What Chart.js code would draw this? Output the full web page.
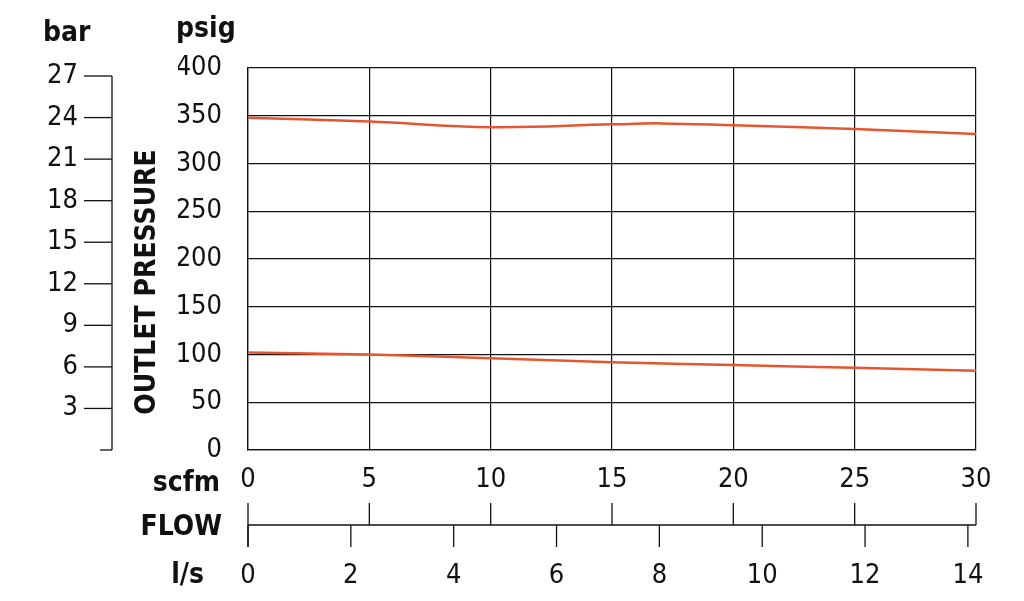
<!DOCTYPE html>
<html>
<head>
<meta charset="utf-8">
<script src="https://cdn.jsdelivr.net/npm/chart.js@4"></script>
<style>
  html, body { margin: 0; padding: 0; background: #fff; }
  #wrap { width: 1024px; height: 601px; }
</style>
</head>
<body>
<div id="wrap"><canvas id="flowChart" width="1024" height="601"></canvas></div>
<script>
const flowScfm = [0, 5, 10, 15, 17, 20, 25, 30];
const upperPsig = [348, 344, 338, 341, 342, 340, 336, 331];
const lowerScfm = [0, 5, 10, 15, 20, 25, 30];
const lowerPsig = [102, 100, 96, 92, 89, 86, 83];
const barTicks = [0, 3, 6, 9, 12, 15, 18, 21, 24, 27];
const lpsTicks = [0, 2, 4, 6, 8, 10, 12, 14];

const PSI_PER_BAR = 14.5038;
const SCFM_PER_LPS = 2.119;
const FONT = "'Liberation Sans Narrow', 'DejaVu Sans Condensed', sans-serif";
const INK = '#111';
const LINE_COLOR = '#e4572e';

const extras = {
    id: 'extras',
    afterDraw(chart) {
        const ctx = chart.ctx;
        const x = chart.scales.x;
        const y = chart.scales.y;
        ctx.save();
        ctx.strokeStyle = INK;
        ctx.fillStyle = INK;
        ctx.lineWidth = 1.3;

        // bar axis
        const barX = 112;
        const top = y.getPixelForValue(27 * PSI_PER_BAR);
        ctx.beginPath();
        ctx.moveTo(barX, top);
        ctx.lineTo(barX, y.bottom);
        ctx.stroke();
        ctx.font = '27px ' + FONT;
        ctx.textAlign = 'right';
        ctx.textBaseline = 'middle';
        barTicks.forEach(b => {
            const py = y.getPixelForValue(b * PSI_PER_BAR);
            ctx.beginPath();
            ctx.moveTo(b === 0 ? 100 : 84, py);
            ctx.lineTo(barX, py);
            ctx.stroke();
            if (b > 0) ctx.fillText(String(b), 78, py);
        });

        // flow line
        const flowY = 525;
        ctx.beginPath();
        ctx.moveTo(x.getPixelForValue(0), flowY);
        ctx.lineTo(x.getPixelForValue(30), flowY);
        ctx.stroke();
        for (let s = 0; s <= 30; s += 5) {
            const px = x.getPixelForValue(s);
            ctx.beginPath();
            ctx.moveTo(px, flowY - 22);
            ctx.lineTo(px, flowY + (s === 0 ? 22 : 0));
            ctx.stroke();
        }
        ctx.textAlign = 'center';
        ctx.textBaseline = 'middle';
        lpsTicks.forEach(l => {
            const px = x.getPixelForValue(Math.min(l * SCFM_PER_LPS, 30));
            ctx.beginPath();
            ctx.moveTo(px, flowY);
            ctx.lineTo(px, flowY + 22);
            ctx.stroke();
            ctx.fillText(String(l), px, 576);
        });

        // titles
        ctx.font = 'bold 28px ' + FONT;
        ctx.textAlign = 'left';
        ctx.fillText('bar', 43, 34);
        ctx.fillText('psig', 176, 30);
        ctx.textAlign = 'right';
        ctx.fillText('scfm', 220, 484);
        ctx.fillText('FLOW', 222, 528);
        ctx.fillText('l/s', 204, 576);
        ctx.save();
        ctx.translate(148, 282);
        ctx.rotate(-Math.PI / 2);
        ctx.textAlign = 'center';
        ctx.fillText('OUTLET PRESSURE', 0, 0);
        ctx.restore();
        ctx.restore();
    }
};

new Chart(document.getElementById('flowChart'), {
    type: 'line',
    data: {
        datasets: [{
            data: flowScfm.map((v, i) => ({ x: v, y: upperPsig[i] })),
            borderColor: LINE_COLOR,
            borderWidth: 2.5,
            pointRadius: 0,
            tension: 0.4
        }, {
            data: lowerScfm.map((v, i) => ({ x: v, y: lowerPsig[i] })),
            borderColor: LINE_COLOR,
            borderWidth: 2.5,
            pointRadius: 0,
            tension: 0.4
        }]
    },
    options: {
        responsive: false,
        animation: false,
        layout: { padding: { left: 178, right: 48, top: 68, bottom: 111 } },
        plugins: { legend: { display: false }, tooltip: { enabled: false } },
        scales: {
            x: {
                type: 'linear',
                min: 0, max: 30,
                afterFit(s) { s.height = 40; },
                grid: { color: INK, lineWidth: 1.2, tickLength: 0 },
                border: { color: INK, width: 1.3 },
                ticks: { stepSize: 5, padding: 14, color: INK, font: { size: 27, family: FONT } }
            },
            y: {
                min: 0, max: 400,
                afterFit(s) { s.width = 70; },
                grid: { color: INK, lineWidth: 1.2, tickLength: 0 },
                border: { color: INK, width: 1.3 },
                ticks: { stepSize: 50, padding: 26, color: INK, font: { size: 27, family: FONT } }
            }
        }
    },
    plugins: [extras]
});
</script>
</body>
</html>
